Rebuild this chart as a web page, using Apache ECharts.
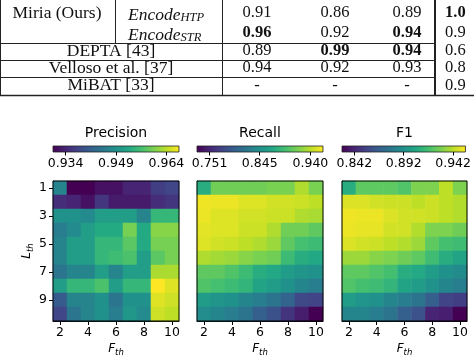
<!DOCTYPE html>
<html><head><meta charset="utf-8">
<script src="https://cdn.jsdelivr.net/npm/echarts@6/dist/echarts.min.js"></script>
<style>html,body{margin:0;padding:0;background:#fff}#c{width:474px;height:358px}</style>
</head><body><div id="c"></div>
<script>
// ---------- table data ----------
const rowLabels = ['Miria (Ours)', 'DEPTA [43]', 'Velloso et al. [37]', 'MiBAT [33]'];
const encoderSubs = ['HTP', 'STR'];
const tableValues = [
  ['0.91', '0.86', '0.89', '1.0'],
  ['0.96', '0.92', '0.94', '0.9'],
  ['0.89', '0.99', '0.94', '0.6'],
  ['0.94', '0.92', '0.93', '0.8'],
  ['-', '-', '-', '0.9']
];
const boldCells = ['0,3', '1,0', '1,2', '2,1', '2,2'];

// ---------- heatmap data ----------
const F_labels = ['2', '3', '4', '5', '6', '7', '8', '9', '10'];
const L_labels = ['1', '2', '3', '4', '5', '6', '7', '8', '9', '10'];
const panelTitles = ['Precision', 'Recall', 'F1'];
const colorbarRanges = [[0.93025, 0.96775], [0.72738, 0.96363], [0.8295, 0.9545]];
const colorbarTicks = [[0.934, 0.949, 0.964], [0.751, 0.845, 0.940], [0.842, 0.892, 0.942]];

const precision = [
  [0.947, 0.930, 0.930, 0.932, 0.932, 0.934, 0.934, 0.937, 0.938],
  [0.935, 0.934, 0.932, 0.936, 0.933, 0.933, 0.933, 0.935, 0.936],
  [0.949, 0.949, 0.948, 0.951, 0.951, 0.951, 0.947, 0.955, 0.955],
  [0.946, 0.948, 0.951, 0.953, 0.953, 0.960, 0.953, 0.961, 0.961],
  [0.947, 0.951, 0.951, 0.955, 0.955, 0.958, 0.953, 0.960, 0.960],
  [0.947, 0.951, 0.951, 0.955, 0.956, 0.957, 0.951, 0.958, 0.960],
  [0.945, 0.947, 0.947, 0.951, 0.947, 0.951, 0.951, 0.963, 0.963],
  [0.951, 0.955, 0.955, 0.957, 0.951, 0.955, 0.955, 0.968, 0.966],
  [0.941, 0.947, 0.947, 0.949, 0.945, 0.949, 0.949, 0.966, 0.965],
  [0.938, 0.945, 0.947, 0.949, 0.946, 0.950, 0.948, 0.965, 0.964]
];
const recall = [
  [0.874, 0.912, 0.912, 0.912, 0.912, 0.916, 0.916, 0.935, 0.916],
  [0.959, 0.957, 0.957, 0.952, 0.952, 0.947, 0.947, 0.945, 0.940],
  [0.957, 0.952, 0.952, 0.947, 0.947, 0.945, 0.945, 0.935, 0.933],
  [0.954, 0.952, 0.952, 0.945, 0.945, 0.935, 0.912, 0.912, 0.905],
  [0.952, 0.947, 0.945, 0.940, 0.935, 0.928, 0.905, 0.893, 0.888],
  [0.935, 0.931, 0.928, 0.921, 0.916, 0.912, 0.888, 0.874, 0.869],
  [0.905, 0.905, 0.898, 0.888, 0.874, 0.869, 0.857, 0.850, 0.846],
  [0.898, 0.893, 0.888, 0.881, 0.864, 0.857, 0.846, 0.834, 0.827],
  [0.857, 0.850, 0.846, 0.834, 0.827, 0.817, 0.803, 0.779, 0.775],
  [0.841, 0.834, 0.827, 0.817, 0.798, 0.786, 0.763, 0.746, 0.727]
];
const f1 = [
  [0.907, 0.923, 0.923, 0.923, 0.920, 0.930, 0.930, 0.942, 0.930],
  [0.948, 0.948, 0.946, 0.945, 0.945, 0.942, 0.945, 0.942, 0.940],
  [0.952, 0.951, 0.951, 0.948, 0.946, 0.946, 0.945, 0.942, 0.940],
  [0.951, 0.950, 0.950, 0.946, 0.946, 0.940, 0.930, 0.930, 0.927],
  [0.948, 0.946, 0.945, 0.942, 0.940, 0.936, 0.923, 0.917, 0.915],
  [0.936, 0.936, 0.932, 0.930, 0.927, 0.923, 0.915, 0.907, 0.902],
  [0.923, 0.923, 0.920, 0.917, 0.907, 0.905, 0.898, 0.892, 0.889],
  [0.920, 0.917, 0.915, 0.911, 0.902, 0.898, 0.892, 0.886, 0.882],
  [0.898, 0.894, 0.892, 0.886, 0.882, 0.877, 0.867, 0.855, 0.852],
  [0.886, 0.886, 0.882, 0.877, 0.867, 0.861, 0.842, 0.840, 0.8295]
];
const matrices = [precision, recall, f1];

const viridis = ['#440154', '#482475', '#414487', '#355f8d', '#2a788e', '#21918c',
                 '#22a884', '#44bf70', '#7ad151', '#bddf26', '#fde725'];

// ---------- layout ----------
const SANS = 'DejaVu Sans';
const SERIF = 'Liberation Serif';
const hmGrids = [
  {left: 53, top: 181, width: 126, height: 140},
  {left: 197, top: 181, width: 126, height: 140},
  {left: 342, top: 181, width: 125, height: 140}
];
const cbTop = 146, cbHeight = 6;

function toData(mat) {
  const d = [];
  mat.forEach((row, i) => row.forEach((v, j) => d.push([j, i, v])));
  return d;
}

const grid = [], xAxis = [], yAxis = [], series = [], visualMap = [], graphic = [];

hmGrids.forEach((g, k) => {
  grid.push(Object.assign({show: true, borderColor: '#000', borderWidth: 1, backgroundColor: 'transparent', z: 10}, g));
});
hmGrids.forEach((g, k) => {
  const stops = viridis.map((c, i) => ({offset: i / (viridis.length - 1), color: c}));
  grid.push({left: g.left, top: cbTop, width: g.width, height: cbHeight, show: true,
    borderColor: '#222', borderWidth: 0.8,
    backgroundColor: new echarts.graphic.LinearGradient(0, 0, 1, 0, stops)});
});

const axisName = (a, b) => '{a|' + a + '}{b|' + b + '}';
const nameRich = {
  a: {fontFamily: SANS, fontStyle: 'italic', fontSize: 12, color: '#000', lineHeight: 16},
  b: {fontFamily: SANS, fontStyle: 'italic', fontSize: 8.5, color: '#000', lineHeight: 10, verticalAlign: 'bottom'}
};

hmGrids.forEach((g, k) => {
  xAxis.push({
    gridIndex: k, type: 'category', data: F_labels,
    name: axisName('F', 'th'), nameLocation: 'middle', nameGap: 20,
    nameTextStyle: {rich: nameRich},
    axisLine: {show: true, lineStyle: {color: '#000', width: 1}},
    axisTick: {show: true, alignWithLabel: true, interval: 1, length: 4, lineStyle: {color: '#000'}},
    axisLabel: {interval: 1, fontFamily: SANS, fontSize: 12.5, color: '#000', margin: 5},
    splitLine: {show: false}
  });
  yAxis.push({
    gridIndex: k, type: 'category', data: L_labels, inverse: true,
    name: k === 0 ? axisName('L', 'th') : '', nameLocation: 'middle', nameGap: 13,
    nameTextStyle: {rich: nameRich},
    axisLine: {show: true, lineStyle: {color: '#000', width: 1}},
    axisTick: {show: k === 0, alignWithLabel: true, interval: 1, length: 4, lineStyle: {color: '#000'}},
    axisLabel: {show: k === 0, interval: 1, fontFamily: SANS, fontSize: 12.5, color: '#000', margin: 6},
    splitLine: {show: false}
  });
  series.push({
    type: 'heatmap', xAxisIndex: k, yAxisIndex: k, data: toData(matrices[k]),
    itemStyle: {borderWidth: 0}, emphasis: {disabled: true}, progressive: 0
  });
  visualMap.push({
    type: 'continuous', show: false, seriesIndex: k, dimension: 2,
    min: colorbarRanges[k][0], max: colorbarRanges[k][1],
    inRange: {color: viridis}
  });
});

hmGrids.forEach((g, k) => {
  xAxis.push({
    gridIndex: 3 + k, type: 'value', min: colorbarRanges[k][0], max: colorbarRanges[k][1],
    axisLine: {show: false}, splitLine: {show: false},
    axisTick: {show: true, customValues: colorbarTicks[k], length: 3.5, lineStyle: {color: '#000'}},
    axisLabel: {show: true, customValues: colorbarTicks[k], fontFamily: SANS, fontSize: 12.5, color: '#000',
      margin: 5, formatter: v => v.toFixed(3)}
  });
  yAxis.push({gridIndex: 3 + k, type: 'value', show: false, min: 0, max: 1});
  graphic.push({type: 'text', x: g.left + g.width / 2, y: 133,
    style: {text: panelTitles[k], fontFamily: SANS, fontSize: 14, fill: '#000', align: 'center', verticalAlign: 'middle'}});
});

// ---------- table ----------
const rowY = [13, 33, 51, 68, 85.5];
const colX = [257, 335, 407];
const lastColX = 445;
const encRich = {
  m: {fontFamily: SERIF, fontStyle: 'italic', fontSize: 17.5, fill: '#111', lineHeight: 19},
  s: {fontFamily: SERIF, fontStyle: 'italic', fontSize: 12.5, fill: '#111', lineHeight: 11, verticalAlign: 'bottom'}
};
const txt = (x, y, text, align, bold, size) => ({type: 'text', x, y, silent: true,
  style: {text, fontFamily: SERIF, fontSize: size || 16, fontWeight: bold ? 'bold' : 'normal', fill: '#111',
    align, verticalAlign: 'middle'}});

graphic.push(txt(57, rowY[0], rowLabels[0], 'center', false, 17.5));
encoderSubs.forEach((s, i) => {
  graphic.push({type: 'text', x: 128, y: rowY[i] + 2, silent: true,
    style: {text: '{m|Encode}{s|' + s + '}', rich: encRich, align: 'left', verticalAlign: 'middle'}});
});
rowLabels.slice(1).forEach((l, i) => graphic.push(txt(111, rowY[i + 2], l, 'center', false, 17.5)));
tableValues.forEach((row, r) => {
  row.forEach((v, c) => {
    const bold = boldCells.indexOf(r + ',' + c) >= 0;
    if (c < 3) graphic.push(txt(colX[c], rowY[r], v, 'center', bold, 16.5));
    else graphic.push(txt(lastColX, rowY[r], v, 'left', bold, 16.5));
  });
});
const ln = (x1, y1, x2, y2, w) => ({type: 'line', silent: true,
  shape: {x1, y1, x2, y2}, style: {stroke: '#222', lineWidth: w || 1}});
graphic.push(ln(0, 43.5, 435, 43.5));
graphic.push(ln(0, 60.5, 435, 60.5));
graphic.push(ln(0, 77.5, 435, 77.5));
graphic.push(ln(0, 95.5, 474, 95.5, 1.5));
graphic.push(ln(0.5, 0, 0.5, 95.5));
graphic.push(ln(115.5, 0, 115.5, 43.5));
graphic.push(ln(222.5, 0, 222.5, 95.5));
graphic.push(ln(435, 0, 435, 95.5, 2));

const chart = echarts.init(document.getElementById('c'), null, {renderer: 'canvas'});
chart.setOption({
  animation: false,
  backgroundColor: '#fff',
  grid, xAxis, yAxis, series, visualMap, graphic
});
</script></body></html>
